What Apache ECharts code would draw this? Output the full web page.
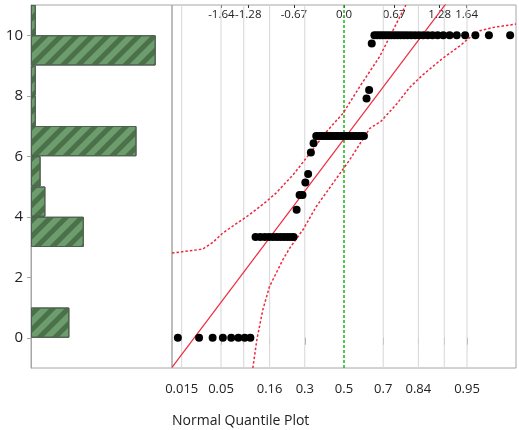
<!DOCTYPE html>
<html>
<head>
<meta charset="utf-8">
<script src="https://cdn.jsdelivr.net/npm/echarts@6/dist/echarts.min.js"></script>
<style>
html,body{margin:0;padding:0;background:#fff;}
#chart{width:519px;height:430px;}
</style>
</head>
<body>
<div id="chart"></div>
<script>
// ---- Histogram (bins of width 1, labelled by lower edge) ----
const binStarts = ['-1','0','1','2','3','4','5','6','7','8','9','10'];
const binCounts = [0, 8, 0, 0, 11, 3, 2, 22, 1, 1, 26, 1];

const values = [
  0,0,0,0,0,0,0,0,
  3.33,3.33,3.33,3.33,3.33,3.33,3.33,3.33,3.33,3.33,3.33,
  4.23,4.72,4.72,5.13,5.41,6.12,6.43,
  6.67,6.67,6.67,6.67,6.67,6.67,6.67,6.67,6.67,6.67,
  6.67,6.67,6.67,6.67,6.67,6.67,6.67,6.67,6.67,6.67,
  7.91,8.19,9.73,
  10,10,10,10,10,10,10,10,10,10,10,10,10,
  10,10,10,10,10,10,10,10,10,10,10,10,10
];

// ---- Confidence bands (normal quantile z, value) ----
const upperBandZ = [-2.30,-1.889,-1.755,-1.621,-1.441,-1.263,-1.040,-0.906,-0.683,-0.549,-0.236,-0.013,0.210,0.478,0.702,0.827];
const upperBandV = [2.80,2.93,3.15,3.46,3.77,4.07,4.50,4.79,5.38,5.80,6.81,7.42,8.30,9.30,10.39,11.0];
const lowerBandZ = [-1.219,-1.165,-1.085,-0.995,-0.817,-0.727,-0.549,-0.370,-0.147,0.076,0.344,0.492,0.702,0.880,1.058,1.326,1.550,1.684,1.818,1.996,2.30];
const lowerBandV = [-1.0,-0.06,0.93,1.70,2.58,2.96,3.57,4.34,5.11,5.88,6.92,7.15,7.72,8.28,8.70,9.25,9.65,9.93,10.15,10.26,10.37];

// ---- Axis labels ----
const leftTicks = [0,2,4,6,8,10];
const bottomProbLabels = ['0.015','0.05','0.16','0.3','0.5','0.7','0.84','0.95'];
const gridProbs = [0.015,0.05,0.09,0.16,0.3,0.7,0.84,0.91,0.95];
const topZLabels = ['-1.64','-1.28','-0.67','0.0','0.67','1.28','1.64'];

function normInv(p){
  const a=[-3.969683028665376e+01,2.209460984245205e+02,-2.759285104469687e+02,1.383577518672690e+02,-3.066479806614716e+01,2.506628277459239e+00];
  const b=[-5.447609879822406e+01,1.615858368580409e+02,-1.556989798598866e+02,6.680131188771972e+01,-1.328068155288572e+01];
  const c=[-7.784894002430293e-03,-3.223964580411365e-01,-2.400758277161838e+00,-2.549732539343734e+00,4.374664141464968e+00,2.938163982698783e+00];
  const d=[7.784695709041462e-03,3.224671290700398e-01,2.445134137142996e+00,3.754408661907416e+00];
  const pl=0.02425, ph=1-pl; let q,r;
  if(p<pl){q=Math.sqrt(-2*Math.log(p));return (((((c[0]*q+c[1])*q+c[2])*q+c[3])*q+c[4])*q+c[5])/((((d[0]*q+d[1])*q+d[2])*q+d[3])*q+1);}
  if(p<=ph){q=p-0.5;r=q*q;return (((((a[0]*r+a[1])*r+a[2])*r+a[3])*r+a[4])*r+a[5])*q/(((((b[0]*r+b[1])*r+b[2])*r+b[3])*r+b[4])*r+1);}
  q=Math.sqrt(-2*Math.log(1-p));return -(((((c[0]*q+c[1])*q+c[2])*q+c[3])*q+c[4])*q+c[5])/((((d[0]*q+d[1])*q+d[2])*q+d[3])*q+1);
}

const N = values.length;
const quantilePts = values.map((v,i)=>[normInv((i+1)/(N+1)), v]);
const mean = values.reduce((s,v)=>s+v,0)/N;
const sd = Math.sqrt(values.reduce((s,v)=>s+(v-mean)*(v-mean),0)/(N-1));
const ZMIN=-2.3, ZMAX=2.3, YMIN=-1, YMAX=11;
const fitLine = [[ZMIN, mean+sd*ZMIN],[ZMAX, mean+sd*ZMAX]];

const bottomLabelZ = bottomProbLabels.map(s=>normInv(parseFloat(s)));
const gridZ = gridProbs.map(p=>normInv(p));
const topLabelZ = topZLabels.map(s=>parseFloat(s));

const FONT = '"Open Sans", "Noto Sans", sans-serif';
const RED = '#ec2a3e';
const chart = echarts.init(document.getElementById('chart'), null, {renderer:'canvas'});

function nearestLabel(val, zs, labels){
  let bi=0, bd=1e9;
  zs.forEach((z,i)=>{const dd=Math.abs(z-val); if(dd<bd){bd=dd;bi=i;}});
  return labels[bi];
}

const vLine = (z, color, width, type) => ({
  type:'line', xAxisIndex:1, yAxisIndex:2, data:[[z,YMIN],[z,YMAX]],
  showSymbol:false, symbol:'none', silent:true, z:1,
  lineStyle:{color:color, width:width, type:type}
});

chart.setOption({
  animation:false,
  backgroundColor:'#fff',
  title:{
    text:'Normal Quantile Plot', left:172, top:414, padding:0,
    textStyle:{fontFamily:FONT, fontSize:14, fontWeight:'normal', color:'#222'}
  },
  grid:[
    {left:31, top:5, width:141, height:363, show:true, borderColor:'#a6a6a6', borderWidth:1, outerBoundsMode:'none'},
    {left:172, top:5, width:344, height:363, show:true, borderColor:'#a6a6a6', borderWidth:1, outerBoundsMode:'none'}
  ],
  xAxis:[
    {gridIndex:0, type:'value', min:0, max:29.4, show:false},
    {gridIndex:1, type:'value', min:ZMIN, max:ZMAX, position:'bottom',
     axisLine:{show:false},
     axisTick:{show:true, inside:false, length:7, customValues: gridZ, lineStyle:{color:'#a6a6a6'}},
     axisLabel:{show:true, margin:15, customValues: bottomLabelZ, fontFamily:FONT, fontSize:13, color:'#222',
       showMinLabel:true, showMaxLabel:true, hideOverlap:false,
       formatter:(v)=>nearestLabel(v, bottomLabelZ, bottomProbLabels)},
     splitLine:{show:false}},
    {gridIndex:1, type:'value', min:ZMIN, max:ZMAX, position:'top',
     axisLine:{show:false},
     axisTick:{show:true, inside:true, length:3, customValues: topLabelZ, lineStyle:{color:'#333'}},
     axisLabel:{show:true, inside:true, margin:4, customValues: topLabelZ, fontFamily:FONT, fontSize:11.5, color:'#222',
       showMinLabel:true, showMaxLabel:true, hideOverlap:false,
       formatter:(v)=>nearestLabel(v, topLabelZ, topZLabels)},
     splitLine:{show:false}}
  ],
  yAxis:[
    {gridIndex:0, type:'value', min:YMIN, max:YMAX, position:'left',
     axisLine:{show:true, lineStyle:{color:'#a6a6a6'}},
     axisTick:{show:true, length:4, customValues:leftTicks, lineStyle:{color:'#a6a6a6'}},
     axisLabel:{show:true, margin:8, customValues:leftTicks, fontFamily:FONT, fontSize:15, color:'#222',
       showMinLabel:true, showMaxLabel:true},
     splitLine:{show:false}},
    {gridIndex:0, type:'category', data:binStarts, show:false, boundaryGap:true},
    {gridIndex:1, type:'value', min:YMIN, max:YMAX, show:false}
  ],
  series:[
    {type:'bar', xAxisIndex:0, yAxisIndex:1, barWidth:'100%', barGap:'0%',
     data: binCounts.map(c=>c===0?null:c),
     itemStyle:{color:'#6d9c6d', borderColor:'#4f5f4f', borderWidth:1,
       decal:{symbol:'rect', symbolSize:1, color:'#4a714a', dashArrayX:[1,0], dashArrayY:[5,5.6], rotation:-Math.PI/4}},
     silent:true},
    ...gridZ.map(z=>vLine(z,'#d6d6d6',1,'solid')),
    vLine(0,'#19b419',1.5,[3,2]),
    {type:'line', xAxisIndex:1, yAxisIndex:2, data:upperBandZ.map((z,i)=>[z,upperBandV[i]]),
     showSymbol:false, symbol:'none', clip:true, silent:true, z:2,
     lineStyle:{color:RED, width:1.5, type:[2.5,2]}},
    {type:'line', xAxisIndex:1, yAxisIndex:2, data:lowerBandZ.map((z,i)=>[z,lowerBandV[i]]),
     showSymbol:false, symbol:'none', clip:true, silent:true, z:2,
     lineStyle:{color:RED, width:1.5, type:[2.5,2]}},
    {type:'line', xAxisIndex:1, yAxisIndex:2, data:fitLine,
     showSymbol:false, symbol:'none', clip:true, silent:true, z:2,
     lineStyle:{color:RED, width:1.2, type:'solid'}},
    {type:'scatter', xAxisIndex:1, yAxisIndex:2, data:quantilePts, symbol:'circle', symbolSize:8,
     itemStyle:{color:'#000', opacity:1}, silent:true, z:5}
  ]
});
</script>
</body>
</html>
